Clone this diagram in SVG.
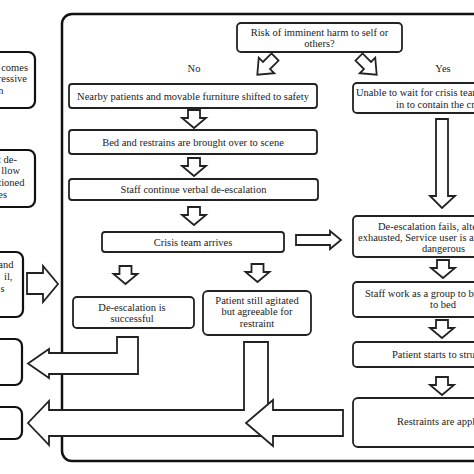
<svg xmlns="http://www.w3.org/2000/svg" xmlns:xlink="http://www.w3.org/1999/xlink" width="474" height="474" viewBox="0 0 474 474">
<style>
.box{fill:#fff;stroke:#222;stroke-width:1.8}
.lbox{fill:#fff;stroke:#111;stroke-width:2.2}
.arr{fill:#fff;stroke:#222;stroke-width:1.8;stroke-linejoin:miter}
text{font-family:"Liberation Serif","Times New Roman",serif;font-size:10.5px;fill:#222}
.m{text-anchor:middle}
.e{text-anchor:end}
</style>
<defs>
<path id="dArrow" d="M-6,0 H6 V8 H12 L0,18 L-12,8 H-6 Z"/>
<path id="tArrow" d="M-5,0 H5 V12 H11 L0,25 L-11,12 H-5 Z"/>
</defs>
<rect width="474" height="474" fill="#fff"/>

<g id="frame"><rect x="62" y="14" width="440" height="447" rx="10" fill="none" stroke="#111" stroke-width="2.5"/></g>

<g id="left1"><rect class="lbox" x="-20" y="52" width="55" height="56" rx="7"/>
<text class="e" x="28" y="70.5">comes</text><text class="e" x="27" y="82">ressive</text><text class="e" x="3.5" y="93.5">n</text></g>
<g id="left2"><rect class="lbox" x="-20" y="150" width="55" height="57" rx="7"/>
<text class="e" x="17" y="162.5">t de-</text><text class="e" x="20" y="174">llow</text><text class="e" x="24.5" y="186">tioned</text><text class="e" x="7" y="197.5">es</text></g>
<g id="left3"><rect class="lbox" x="-20" y="252" width="43" height="65" rx="7"/>
<text class="e" x="13.5" y="267.5">and</text><text class="e" x="12.5" y="279.5">il,</text><text class="e" x="4.5" y="291.5">s</text></g>
<g id="left4"><rect class="lbox" x="-20" y="339" width="42" height="46" rx="7"/></g>
<g id="left5"><rect class="lbox" x="-20" y="407" width="42" height="32" rx="7"/></g>

<g id="risk"><rect class="box" x="237" y="23" width="165" height="29" rx="4"/>
<text class="m" x="319.5" y="35.5">Risk of imminent harm to self or</text><text class="m" x="319.5" y="47">others?</text></g>
<g id="no"><text class="m" x="194" y="71.5">No</text></g>
<g id="yes"><text class="m" x="443" y="71.5">Yes</text></g>
<g id="nearby"><rect class="box" x="69" y="84" width="248" height="24" rx="3"/>
<text class="m" x="193" y="99.5">Nearby patients and movable furniture shifted to safety</text></g>
<g id="bed"><rect class="box" x="69" y="130" width="248" height="24" rx="3"/>
<text class="m" x="193" y="145.5">Bed and restrains are brought over to scene</text></g>
<g id="staff"><rect class="box" x="69" y="179" width="249" height="21" rx="3"/>
<text class="m" x="193.5" y="193">Staff continue verbal de-escalation</text></g>
<g id="crisis"><rect class="box" x="102" y="232" width="182" height="20" rx="3"/>
<text class="m" x="193" y="245.5">Crisis team arrives</text></g>
<g id="success"><rect class="box" x="73" y="297" width="121" height="31" rx="4"/>
<text class="m" x="132" y="310.5">De-escalation is</text><text class="m" x="132" y="321.5">successful</text></g>
<g id="agitated"><rect class="box" x="203" y="291" width="108" height="44" rx="5"/>
<text class="m" x="257" y="303.5">Patient still agitated</text><text class="m" x="257" y="315">but agreeable for</text><text class="m" x="257" y="326.5">restraint</text></g>
<g id="unable"><rect class="box" x="353" y="83" width="140" height="30" rx="4"/>
<text x="356" y="95.5">Unable to wait for crisis team</text><text x="396" y="107.5">in to contain the cr</text></g>
<g id="fails"><rect class="box" x="353" y="216" width="140" height="41" rx="4"/>
<text x="378" y="229.5">De-escalation fails, alte</text><text x="358" y="240.5">exhausted, Service user is a</text><text class="m" x="443.5" y="251.5">dangerous</text></g>
<g id="group"><rect class="box" x="353" y="282" width="140" height="35" rx="4"/>
<text x="365" y="296.5">Staff work as a group to be</text><text class="m" x="443" y="307.5">to bed</text></g>
<g id="struggle"><rect class="box" x="353" y="342" width="140" height="25" rx="4"/>
<text x="392" y="357.5">Patient starts to stru</text></g>
<g id="applied"><rect class="box" x="353" y="398" width="140" height="49" rx="5"/>
<text x="397" y="425">Restraints are appl</text></g>

<g id="connectors">
<use xlink:href="#tArrow" class="arr" transform="translate(275,57) rotate(45)"/>
<use xlink:href="#tArrow" class="arr" transform="translate(359,57) rotate(-45)"/>
<use xlink:href="#dArrow" class="arr" transform="translate(194,110)"/>
<use xlink:href="#dArrow" class="arr" transform="translate(194,158)"/>
<use xlink:href="#dArrow" class="arr" transform="translate(194,207)"/>
<use xlink:href="#dArrow" class="arr" transform="translate(125.5,266)"/>
<use xlink:href="#dArrow" class="arr" transform="translate(257.5,264)"/>
<use xlink:href="#dArrow" class="arr" transform="translate(443,260)"/>
<use xlink:href="#dArrow" class="arr" transform="translate(442,320)"/>
<use xlink:href="#dArrow" class="arr" transform="translate(442,377)"/>
<path class="arr" d="M436,119 H448 V196 H455 L442,208 L430,196 H436 Z"/>
<path class="arr" d="M296,235 H330 V231 L341,240 L330,249 V245 H296 Z"/>
<path class="arr" d="M27,273 H43 V266 L58,284 L43,302 V294 H27 Z"/>
<path class="arr" d="M138,337 H117 V353 H49 V349 L28,363.5 L49,378 V374 H138 Z"/>
<path class="arr" d="M268,342 H244 V410 H49 V401 L28,423 L49,445 V436 H268 Z"/>
<path class="arr" d="M343,410 H273 V400 L246,423 L273,446 V436 H343 Z"/>
</g>
</svg>
